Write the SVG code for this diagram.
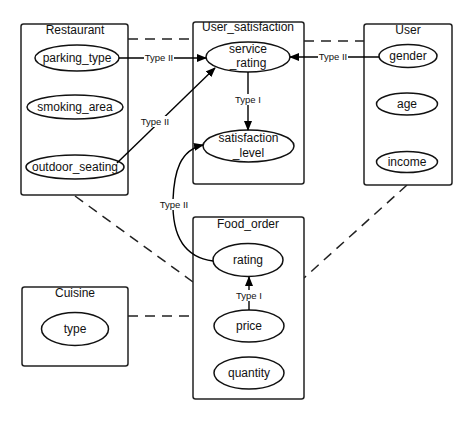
<svg xmlns="http://www.w3.org/2000/svg" width="474" height="421" viewBox="0 0 474 421">
<defs>
<marker id="ah" markerWidth="10" markerHeight="8" refX="9" refY="4" orient="auto" markerUnits="userSpaceOnUse">
<path d="M0,0 L10,4 L0,8 Z" fill="#000"/>
</marker>
<style>
.box{fill:#fff;stroke:#222;stroke-width:1.5}
.ell{fill:#fff;stroke:#111;stroke-width:1.5}
.t{font-family:"Liberation Sans",Arial,sans-serif;font-size:12px;fill:#111;text-anchor:middle}
.ttl{font-family:"Liberation Sans",Arial,sans-serif;font-size:12px;fill:#111;text-anchor:middle}
.lbl{font-family:"Liberation Sans",Arial,sans-serif;font-size:9.5px;fill:#111;text-anchor:middle}
.dash{fill:none;stroke:#222;stroke-width:1.5;stroke-dasharray:10,7}
.arr{fill:none;stroke:#000;stroke-width:1.4;marker-end:url(#ah)}
.bg{fill:#fff}
</style>
</defs>
<rect width="474" height="421" fill="#fff"/>
<g id="connectors">
<line class="dash" x1="128" y1="39" x2="193" y2="39"/>
<line class="dash" x1="304" y1="41" x2="364" y2="41"/>
<line class="dash" x1="128" y1="316" x2="193" y2="316"/>
<line class="dash" x1="75" y1="196" x2="193" y2="282"/>
<line class="dash" x1="407" y1="185" x2="304" y2="278"/>
</g>
<g id="Restaurant">
<rect class="box" x="21" y="24" width="107" height="171" rx="2.5"/>
<text class="ttl" x="75" y="33.5">Restaurant</text>
<ellipse class="ell" cx="77" cy="58" rx="42" ry="13"/>
<text class="t" x="77" y="62">parking_type</text>
<ellipse class="ell" cx="75" cy="107" rx="48" ry="12"/>
<text class="t" x="75" y="111">smoking_area</text>
<ellipse class="ell" cx="75" cy="167" rx="49" ry="12"/>
<text class="t" x="75" y="171">outdoor_seating</text>
</g>
<g id="User_satisfaction">
<rect class="box" x="193" y="22" width="111" height="162" rx="2.5"/>
<text class="ttl" x="248" y="31">User_satisfaction</text>
<ellipse class="ell" cx="248" cy="57" rx="42" ry="15"/>
<text class="t" x="248" y="53">service</text>
<text class="t" x="248" y="67">_rating</text>
<ellipse class="ell" cx="248.5" cy="146" rx="45.5" ry="16"/>
<text class="t" x="248.5" y="142">satisfaction</text>
<text class="t" x="248.5" y="157">_level</text>
</g>
<g id="User">
<rect class="box" x="364" y="24" width="88" height="161" rx="2.5"/>
<text class="ttl" x="408" y="33.5">User</text>
<ellipse class="ell" cx="408" cy="56" rx="29" ry="11.5"/>
<text class="t" x="408" y="60">gender</text>
<ellipse class="ell" cx="407" cy="104" rx="30.5" ry="11"/>
<text class="t" x="407" y="108">age</text>
<ellipse class="ell" cx="407" cy="162" rx="30.5" ry="10.5"/>
<text class="t" x="407" y="166">income</text>
</g>
<g id="Food_order">
<rect class="box" x="193" y="217" width="111" height="182" rx="2.5"/>
<text class="ttl" x="248" y="227.5">Food_order</text>
<ellipse class="ell" cx="248" cy="260" rx="35" ry="16.5"/>
<text class="t" x="248" y="264">rating</text>
<ellipse class="ell" cx="249" cy="326" rx="35" ry="16"/>
<text class="t" x="249" y="330">price</text>
<ellipse class="ell" cx="249" cy="373" rx="35" ry="16"/>
<text class="t" x="249" y="377">quantity</text>
</g>
<g id="Cuisine">
<rect class="box" x="22" y="287" width="106" height="79" rx="2.5"/>
<text class="ttl" x="75" y="297">Cuisine</text>
<ellipse class="ell" cx="75" cy="329" rx="33.5" ry="16.5"/>
<text class="t" x="75" y="333">type</text>
</g>
<g id="arrows">
<line class="arr" x1="119" y1="58" x2="206" y2="58"/>
<rect class="bg" x="144" y="52" width="30" height="11"/>
<text class="lbl" x="159" y="61">Type II</text>
<line class="arr" x1="379" y1="57" x2="290" y2="57"/>
<rect class="bg" x="318" y="51" width="30" height="11"/>
<text class="lbl" x="333" y="60">Type II</text>
<line class="arr" x1="117" y1="163" x2="215" y2="68"/>
<rect class="bg" x="140" y="116" width="30" height="11"/>
<text class="lbl" x="155" y="125">Type II</text>
<line class="arr" x1="248" y1="72" x2="248" y2="130"/>
<rect class="bg" x="234" y="94" width="28" height="11"/>
<text class="lbl" x="248" y="103">Type I</text>
<line class="arr" x1="249" y1="310" x2="249" y2="277"/>
<rect class="bg" x="235" y="290" width="28" height="11"/>
<text class="lbl" x="249" y="298.5">Type I</text>
<path class="arr" d="M213,261 C182,257 172,232 173,200 C174,172 180,150 203,145"/>
<rect class="bg" x="159" y="199" width="30" height="11"/>
<text class="lbl" x="174" y="207.5">Type II</text>
</g>
</svg>
